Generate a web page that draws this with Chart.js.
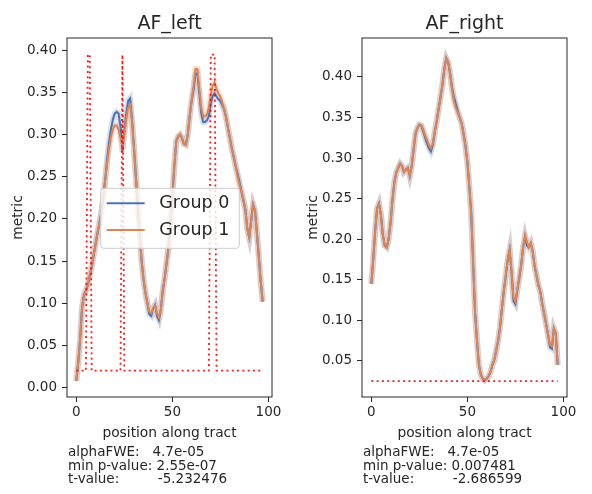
<!DOCTYPE html>
<html>
<head>
<meta charset="utf-8">
<script src="https://cdn.jsdelivr.net/npm/chart.js@4.4.1/dist/chart.umd.min.js"></script>
<style>
  body { margin: 0; background: #fff; width: 592px; height: 494px; position: relative; overflow: hidden; }
  .panel { position: absolute; top: 0; width: 296px; height: 494px; }
  .stats { position: absolute; top: 445px; font: 13.5px/13.5px 'DejaVu Sans', sans-serif; color: #262626; white-space: pre; }
</style>
</head>
<body>
<div class="panel" style="left:0"><canvas id="leftChart"></canvas></div>
<div class="panel" style="left:295px"><canvas id="rightChart"></canvas></div>
<div class="stats" id="statsLeft" style="left:68px"></div>
<div class="stats" id="statsRight" style="left:363px"></div>
<script>
// node positions along the tract
var nodes = [0,1,2,3,4,5,6,7,8,9,10,11,12,13,14,15,16,17,18,19,
  20,21,22,23,24,25,26,27,28,29,30,31,32,33,34,35,36,37,38,39,
  40,41,42,43,44,45,46,47,48,49,50,51,52,53,54,55,56,57,58,59,
  60,61,62,63,64,65,66,67,68,69,70,71,72,73,74,75,76,77,78,79,
  80,81,82,83,84,85,86,87,88,89,90,91,92,93,94,95,96,97];

var groups = ['Group 0', 'Group 1'];

// AF_left
var leftGroup0 = [0.008,0.03,0.058,0.095,0.11,0.115,0.122,0.133,0.143,0.157,
  0.17,0.183,0.195,0.207,0.225,0.246,0.27,0.29,0.306,0.318,
  0.325,0.327,0.325,0.31,0.28,0.305,0.325,0.34,0.343,0.318,
  0.285,0.25,0.215,0.18,0.15,0.128,0.112,0.1,0.087,0.085,
  0.094,0.098,0.085,0.08,0.093,0.115,0.13,0.148,0.167,0.195,
  0.228,0.262,0.292,0.298,0.3,0.296,0.289,0.288,0.3,0.322,
  0.34,0.353,0.372,0.373,0.35,0.326,0.315,0.315,0.317,0.322,
  0.337,0.346,0.349,0.345,0.342,0.34,0.335,0.33,0.32,0.307,
  0.295,0.283,0.273,0.262,0.253,0.243,0.232,0.222,0.211,0.188,
  0.178,0.198,0.217,0.21,0.183,0.155,0.125,0.102];
var leftGroup1 = [0.008,0.03,0.058,0.095,0.11,0.115,0.122,0.133,0.143,0.157,
  0.17,0.183,0.195,0.207,0.225,0.246,0.265,0.283,0.297,0.306,
  0.311,0.311,0.306,0.296,0.287,0.3,0.318,0.332,0.335,0.315,
  0.285,0.25,0.215,0.18,0.15,0.128,0.112,0.1,0.09,0.088,
  0.094,0.098,0.088,0.083,0.093,0.115,0.13,0.148,0.167,0.195,
  0.228,0.262,0.292,0.298,0.3,0.296,0.289,0.288,0.3,0.322,
  0.34,0.357,0.378,0.378,0.355,0.332,0.322,0.322,0.324,0.332,
  0.348,0.358,0.362,0.354,0.349,0.345,0.338,0.33,0.32,0.307,
  0.295,0.283,0.273,0.262,0.25,0.24,0.232,0.222,0.211,0.188,
  0.178,0.198,0.217,0.21,0.183,0.155,0.125,0.102];
var leftSigX = [0,5,6,7,8,23,24,25,69,70,72,73,97];
var leftSigY = [0.02,0.02,0.395,0.395,0.02,0.02,0.395,0.02,0.02,0.395,0.395,0.02,0.02];

// AF_right
var rightGroup0 = [0.145,0.175,0.21,0.238,0.244,0.23,0.205,0.192,0.19,0.2,
  0.22,0.248,0.27,0.282,0.288,0.293,0.29,0.283,0.286,0.288,
  0.278,0.29,0.31,0.33,0.337,0.341,0.34,0.333,0.325,0.318,
  0.312,0.308,0.316,0.332,0.345,0.36,0.375,0.39,0.41,0.423,
  0.418,0.404,0.387,0.375,0.367,0.358,0.35,0.343,0.33,0.315,
  0.295,0.265,0.232,0.17,0.11,0.075,0.045,0.033,0.028,0.026,
  0.028,0.031,0.036,0.045,0.051,0.063,0.075,0.092,0.115,0.137,
  0.155,0.175,0.187,0.158,0.124,0.12,0.138,0.152,0.168,0.19,
  0.203,0.192,0.19,0.195,0.185,0.167,0.155,0.143,0.135,0.12,
  0.108,0.095,0.082,0.067,0.065,0.09,0.084,0.045];
var rightGroup1 = [0.145,0.175,0.21,0.238,0.244,0.23,0.205,0.192,0.19,0.2,
  0.22,0.248,0.27,0.282,0.288,0.293,0.29,0.283,0.286,0.288,
  0.278,0.29,0.31,0.33,0.337,0.341,0.34,0.335,0.328,0.322,
  0.316,0.312,0.318,0.332,0.345,0.36,0.375,0.39,0.41,0.423,
  0.418,0.404,0.385,0.37,0.362,0.356,0.35,0.343,0.33,0.315,
  0.295,0.265,0.232,0.17,0.11,0.075,0.045,0.033,0.028,0.026,
  0.028,0.031,0.036,0.045,0.051,0.063,0.075,0.092,0.115,0.137,
  0.155,0.175,0.187,0.16,0.128,0.123,0.138,0.152,0.168,0.19,
  0.205,0.197,0.19,0.195,0.185,0.167,0.155,0.143,0.135,0.12,
  0.108,0.095,0.082,0.07,0.068,0.09,0.084,0.045];
var rightSigX = [0,97];
var rightSigY = [0.025,0.025];

var xTicks = [0,50,100];
var leftYTicks = [0,0.05,0.1,0.15,0.2,0.25,0.3,0.35,0.4];
var rightYTicks = [0.05,0.1,0.15,0.2,0.25,0.3,0.35,0.4];

var statsLeft = ['alphaFWE:   4.7e-05', 'min p-value: 2.55e-07', 't-value:         -5.232476'];
var statsRight = ['alphaFWE:   4.7e-05', 'min p-value: 0.007481', 't-value:         -2.686599'];

var ink = '#262626';
var blue = '#4c72b0', orange = '#dd8452';
Chart.defaults.font.family = "'DejaVu Sans', sans-serif";
Chart.defaults.color = ink;

function pts(xs, ys) {
  return xs.map(function (x, i) { return {x: x, y: ys[i]}; });
}

// box around the plot area (all four spines)
var frame = {
  id: 'frame',
  afterDatasetsDraw: function (chart) {
    var a = chart.chartArea, ctx = chart.ctx;
    ctx.save();
    ctx.strokeStyle = ink;
    ctx.lineWidth = 1;
    ctx.strokeRect(a.left, a.top, a.right - a.left, a.bottom - a.top);
    ctx.restore();
  }
};

// legend drawn inside the axes like matplotlib's
var innerLegend = {
  id: 'innerLegend',
  afterDatasetsDraw: function (chart, args, o) {
    if (!o.show) return;
    var ctx = chart.ctx;
    ctx.save();
    ctx.beginPath();
    if (ctx.roundRect) ctx.roundRect(o.x, o.y, o.w, o.h, 3); else ctx.rect(o.x, o.y, o.w, o.h);
    ctx.fillStyle = 'rgba(255,255,255,0.8)';
    ctx.fill();
    ctx.strokeStyle = '#cccccc';
    ctx.lineWidth = 1;
    ctx.stroke();
    ctx.font = "17.5px 'DejaVu Sans'";
    ctx.textBaseline = 'middle';
    ctx.fillStyle = ink;
    o.items.forEach(function (it, i) {
      var cy = o.y + 15 + i * 26.7;
      ctx.beginPath();
      ctx.moveTo(o.x + 6, cy);
      ctx.lineTo(o.x + 44, cy);
      ctx.strokeStyle = it.color;
      ctx.lineWidth = 2;
      ctx.stroke();
      ctx.fillText(it.label, o.x + 58.6, cy);
    });
    ctx.restore();
  }
};

function makeChart(id, title, g0, g1, sigX, sigY, yMin, yMax, yTicks, legend) {
  return new Chart(document.getElementById(id), {
    type: 'line',
    data: {
      datasets: [
        {data: pts(sigX, sigY), borderColor: 'rgba(255,0,0,0.9)', borderWidth: 1.8, borderDash: [2, 3.3], order: 0},
        {label: groups[1], data: pts(nodes, g1), borderColor: orange, borderWidth: 2, order: 1},
        {label: groups[0], data: pts(nodes, g0), borderColor: blue, borderWidth: 2, order: 2},
        {data: pts(nodes, g1), borderColor: 'rgba(221,132,82,0.22)', borderWidth: 6, order: 3},
        {data: pts(nodes, g0), borderColor: 'rgba(76,114,176,0.22)', borderWidth: 6, order: 4}
      ]
    },
    options: {
      responsive: true,
      maintainAspectRatio: false,
      animation: false,
      events: [],
      elements: {point: {radius: 0}, line: {tension: 0, fill: false}},
      layout: {padding: {left: 0, top: 0, right: 24, bottom: 52}},
      plugins: {
        legend: {display: false},
        tooltip: {enabled: false},
        title: {display: true, text: title, fullSize: false, color: ink,
          font: {size: 19, weight: 'normal'}, padding: {top: 13, bottom: 2.2}},
        innerLegend: legend
      },
      scales: {
        x: {
          type: 'linear', min: -4.85, max: 101.85,
          afterBuildTicks: function (s) { s.ticks = xTicks.map(function (v) { return {value: v}; }); },
          afterFit: function (s) { s.height = 45; },
          grid: {drawOnChartArea: false, drawTicks: true, tickLength: 5, color: ink},
          border: {display: false},
          ticks: {padding: 2, color: ink, font: {size: 13.5}, maxRotation: 0, autoSkip: false},
          title: {display: true, text: 'position along tract', color: ink, font: {size: 13.8}, padding: {top: 0, bottom: 0}}
        },
        y: {
          type: 'linear', min: yMin, max: yMax,
          afterBuildTicks: function (s) { s.ticks = yTicks.map(function (v) { return {value: v}; }); },
          afterFit: function (s) { s.width = 67; },
          grid: {drawOnChartArea: false, drawTicks: true, tickLength: 5, color: ink},
          border: {display: false},
          ticks: {padding: 5, color: ink, font: {size: 13.5}, autoSkip: false,
            callback: function (v) { return Number(v).toFixed(2); }},
          title: {display: true, text: 'metric', color: ink, font: {size: 13.8}, padding: {top: 9.7, bottom: 0}}
        }
      }
    },
    plugins: [frame, innerLegend]
  });
}

makeChart('leftChart', 'AF_left', leftGroup0, leftGroup1, leftSigX, leftSigY, -0.0112, 0.4147, leftYTicks,
  {show: true, x: 100.7, y: 188.3, w: 138.6, h: 60,
   items: [{label: groups[0], color: blue}, {label: groups[1], color: orange}]});
makeChart('rightChart', 'AF_right', rightGroup0, rightGroup1, rightSigX, rightSigY, 0.0055, 0.448, rightYTicks,
  {show: false});

document.getElementById('statsLeft').textContent = statsLeft.join('\n');
document.getElementById('statsRight').textContent = statsRight.join('\n');
</script>
</body>
</html>
